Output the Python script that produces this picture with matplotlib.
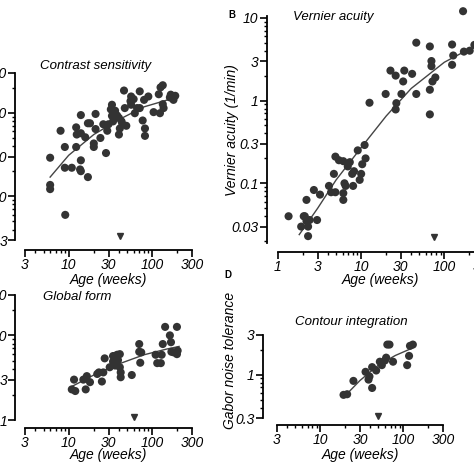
import numpy as np
import matplotlib.pyplot as plt
from matplotlib.ticker import FixedLocator, LogLocator, NullFormatter, FuncFormatter
import matplotlib.transforms as mtrans

plt.rcParams['font.family'] = ['Liberation Sans', 'DejaVu Sans']
plt.rcParams['font.style'] = 'italic'

DOT = '#333333'

# A: contrast sensitivity
a_age = [6, 6, 6, 9.1, 8, 9, 9, 10.9, 12.3, 12.3, 12.5, 13.7, 14, 14, 14, 14, 17, 15.8, 17, 18,
         20, 20, 21, 21, 24, 26, 28, 29, 30, 33, 33, 32, 34, 36, 38, 40, 40, 43, 41, 44, 46, 47,
         49, 55, 56, 56, 60, 62, 66, 71, 71, 77, 82, 82, 80, 90, 104, 120, 124, 126, 134, 137,
         134, 163, 167, 189, 180]
a_val = [29, 13.7, 12.2, 6, 61, 39, 22, 22, 39, 67, 55, 21, 57, 94, 27, 20, 17, 51, 75, 75,
         39, 43, 64, 97, 50, 73, 33, 61, 73, 92, 125, 110, 79, 106, 93, 87, 55, 79, 65, 73, 185, 114,
         70, 138, 157, 125, 146, 99, 114, 114, 181, 81, 65, 53, 143, 157, 102, 167, 99, 202, 214, 114,
         127, 153, 165, 160, 143]
a_fit_age = [6, 10, 20, 40, 80, 150, 200]
a_fit_val = [17, 31, 55, 83, 118, 142, 152]

# B: vernier acuity
b_age = [1.34, 1.9, 2.2, 2.04, 2.2, 2.3, 2.3, 2.1, 2.4, 2.7, 2.95, 3.2, 4.1, 4.35, 4.7, 4.9, 4.9,
         5.4, 6.1, 6.1, 6.1, 6.3, 6.5, 6.9, 7.3, 7.8, 8.0, 8.2, 9.1, 9.6, 10, 10.3, 11, 11.3, 12.6,
         19.7, 22.5, 26, 26, 26.5, 30.5, 32, 33, 41, 46, 46, 67, 67, 70, 67, 72, 70, 78, 124, 128,
         124, 168, 172, 202, 230, 260]
b_val = [0.04, 0.03, 0.063, 0.04, 0.035, 0.03, 0.023, 0.04, 0.036, 0.083, 0.036, 0.073, 0.093,
         0.078, 0.13, 0.21, 0.078, 0.19, 0.185, 0.063, 0.076, 0.1, 0.093, 0.16, 0.18, 0.13, 0.093,
         0.14, 0.25, 0.11, 0.13, 0.17, 0.29, 0.2, 0.94, 1.2, 2.3, 2.0, 0.78, 0.93, 1.2, 1.7, 2.3,
         2.1, 5.0, 1.2, 4.5, 1.35, 3.0, 0.68, 1.7, 2.6, 1.9, 4.75, 3.5, 2.7, 12, 3.9, 4.0, 4.7, 5.2]
b_fit_age = [1.8, 3, 5, 10, 20, 40, 100, 200, 300]
b_fit_val = [0.024, 0.05, 0.11, 0.27, 0.65, 1.4, 2.9, 4.2, 4.6]

# C: global form
c_age = [10.9, 11.6, 12, 15, 16, 16.5, 18, 22, 23, 25, 26, 27, 31, 34, 34, 36, 38, 39, 41, 42,
         41, 42, 57, 70, 70, 72, 74, 110, 115, 127, 130, 134, 143, 163, 168, 170, 181, 198, 198, 202]
c_val = [2.3, 3.0, 2.2, 3.0, 2.3, 3.3, 2.8, 3.5, 3.65, 2.85, 3.65, 5.35, 4.2, 5.7, 4.9, 4.4, 5.9,
         5.1, 6.0, 3.65, 4.2, 3.2, 3.4, 7.9, 6.4, 4.75, 6.3, 5.9, 4.7, 4.7, 5.9, 7.9, 12.6, 10,
         8.3, 6.4, 6.3, 12.6, 6.0, 6.6]
c_fit_age = [11, 20, 40, 80, 150, 210]
c_fit_val = [2.5, 3.4, 4.6, 5.9, 6.9, 7.4]

# D: contour integration
d_age = [19, 21, 25, 35, 38, 39, 42, 42, 47, 52, 55, 60, 62, 64, 68, 75, 111, 117, 120, 130]
d_val = [0.57, 0.58, 0.84, 1.08, 0.87, 0.95, 1.23, 0.69, 1.12, 1.43, 1.3, 1.48, 1.6, 2.3, 2.3,
         1.43, 1.3, 1.68, 2.22, 2.3]
d_fit_age = [20, 30, 50, 80, 130]
d_fit_val = [0.56, 0.85, 1.3, 1.7, 2.1]

W = H = 474
fig = plt.figure(figsize=(4.74, 4.74), dpi=100)


def px_axes(left, right, top, bottom):
    return fig.add_axes([left / W, 1 - bottom / H, (right - left) / W, (bottom - top) / H])


def fmt(v, pos):
    return ('%g' % v)


def style(ax, xlim, ylim, yticks, xoff, yoff):
    ax.set_xscale('log')
    ax.set_yscale('log')
    ax.set_xlim(*xlim)
    ax.set_ylim(*ylim)
    ax.patch.set_visible(False)
    for s in ['top', 'right']:
        ax.spines[s].set_visible(False)
    ax.spines['left'].set_position(('outward', yoff))
    ax.spines['bottom'].set_position(('outward', xoff))
    for s in ['left', 'bottom']:
        ax.spines[s].set_linewidth(1.3)
    ax.xaxis.set_major_locator(FixedLocator([1, 3, 10, 30, 100, 300]))
    ax.yaxis.set_major_locator(FixedLocator(yticks))
    for a in (ax.xaxis, ax.yaxis):
        a.set_minor_locator(LogLocator(subs=np.arange(2, 10)))
        a.set_minor_formatter(NullFormatter())
        a.set_major_formatter(FuncFormatter(fmt))
    ax.tick_params(which='major', length=5, width=1.2, labelsize=10, pad=1)
    ax.tick_params(which='minor', length=2.5, width=1)


def draw(ax, age, val, fa, fv, tri):
    ax.scatter(age, val, s=34, color=DOT, edgecolors='none', zorder=3, clip_on=False)
    ax.plot(fa, fv, color='#444444', lw=1, zorder=2)
    tr = mtrans.blended_transform_factory(ax.transData, ax.transAxes)
    ax.plot([tri], [0.025], marker='v', color=DOT, ms=5, transform=tr, clip_on=False)


axA = px_axes(25, 192, 73, 240)
style(axA, (3, 300), (3, 300), [3, 10, 30, 100, 300], 7, 7)
draw(axA, a_age, a_val, a_fit_age, a_fit_val, 41)

axB = px_axes(278, 484, 16, 243)
style(axB, (1, 300), (0.019, 10.5), [0.03, 0.1, 0.3, 1, 3, 10], 6.5, 8)
draw(axB, b_age, b_val, b_fit_age, b_fit_val, 75)

axC = px_axes(25, 192, 295, 420)
style(axC, (3, 300), (1, 30), [1, 3, 10, 30], 5.5, 7)
draw(axC, c_age, c_val, c_fit_age, c_fit_val, 60)

axD = px_axes(277, 443, 335, 418)
style(axD, (3, 300), (0.3, 3), [0.3, 1, 3], 5, 10)
draw(axD, d_age, d_val, d_fit_age, d_fit_val, 50)


def ftext(x, y, s, **kw):
    fig.text(x / W, 1 - y / H, s, **kw)


ftext(40, 66, 'Contrast sensitivity', fontsize=9.5, va='center')
ftext(293, 17, 'Vernier acuity', fontsize=9.5, va='center')
ftext(43, 297, 'Global form', fontsize=9.5, va='center')
ftext(295, 322, 'Contour integration', fontsize=9.5, va='center')

for cx, cy in [(108, 280), (380, 280), (108, 455), (360, 455)]:
    ftext(cx, cy, 'Age (weeks)', fontsize=10, ha='center', va='center')

ftext(232, 130, 'Vernier acuity (1/min)', fontsize=10, rotation=90, ha='center', va='center')
ftext(230, 360, 'Gabor noise tolerance', fontsize=10, rotation=90, ha='center', va='center')
ftext(232, 15, 'B', fontsize=7, fontweight='bold', style='normal', ha='center', va='center')
ftext(228, 275, 'D', fontsize=7, fontweight='bold', style='normal', ha='center', va='center')

fig.savefig('out.png', dpi=100)
